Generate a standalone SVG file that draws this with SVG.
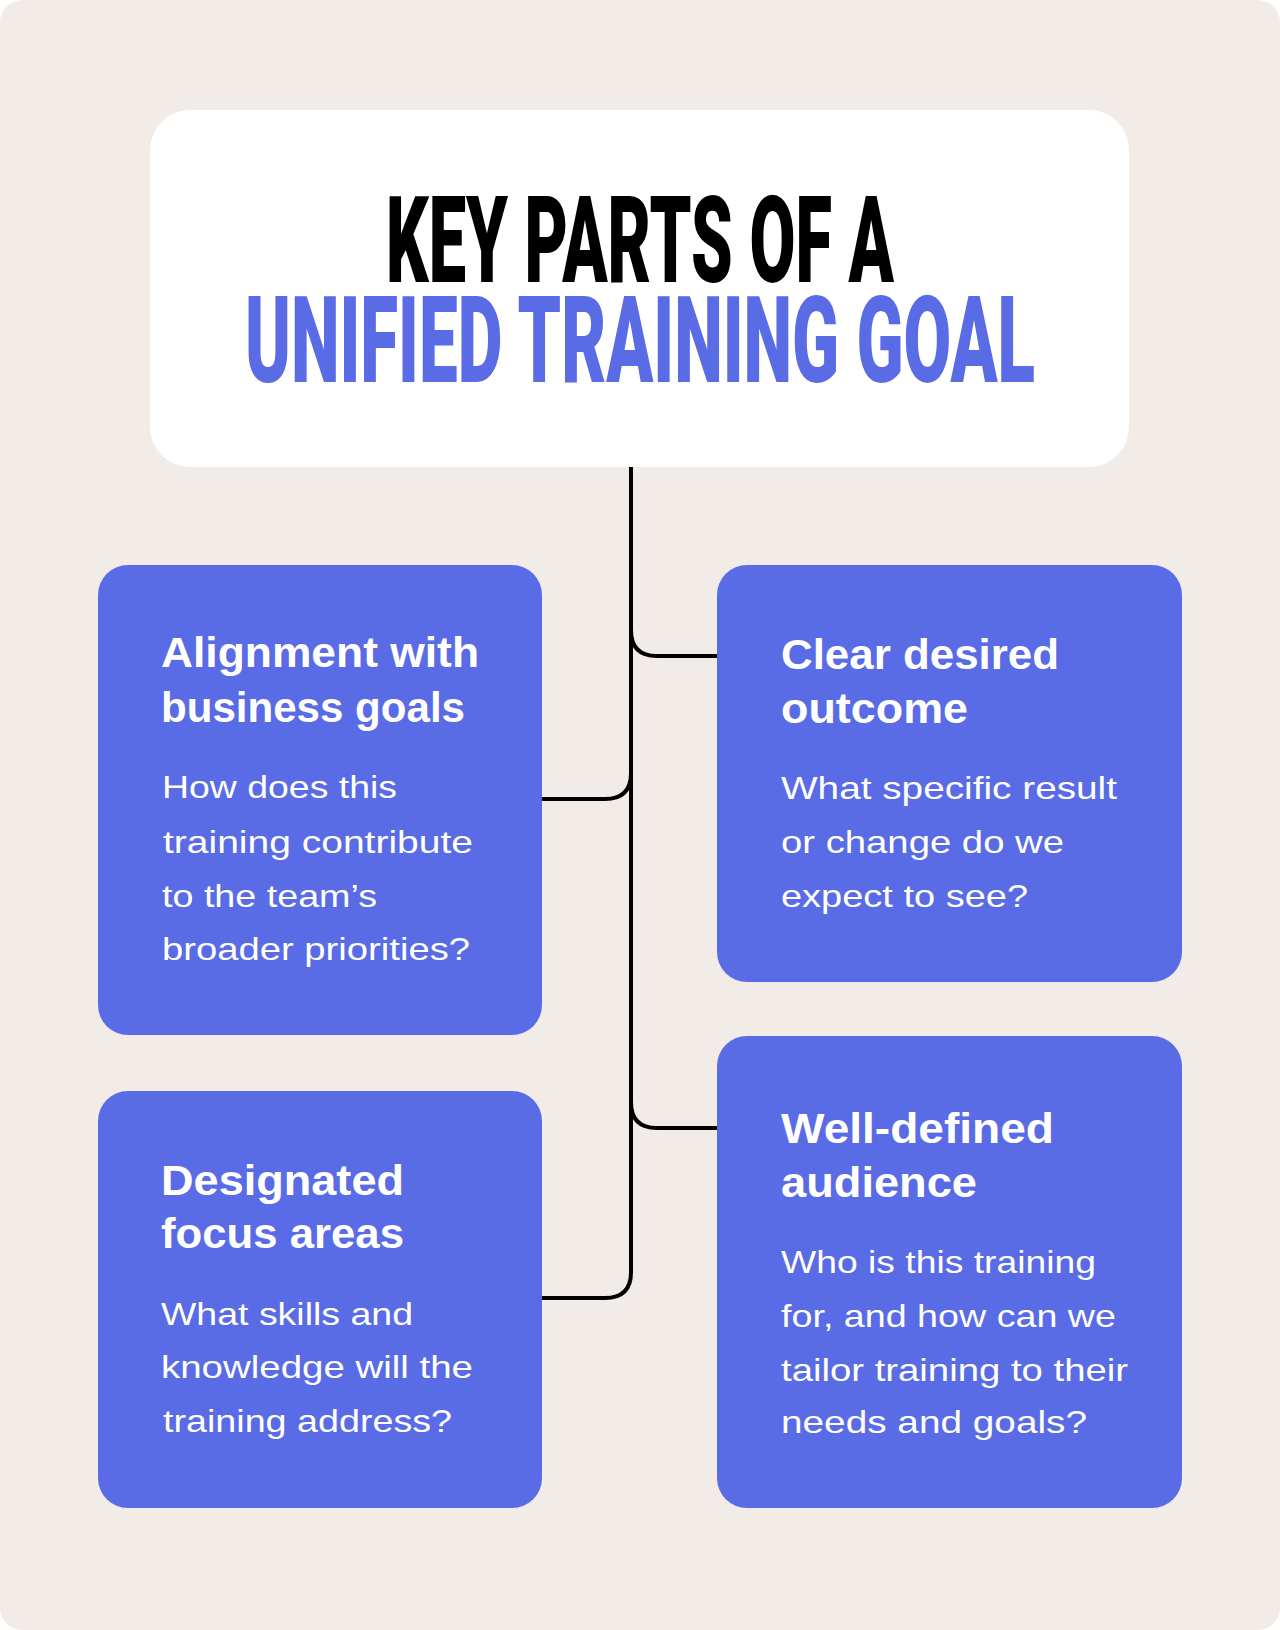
<svg xmlns="http://www.w3.org/2000/svg" width="1280" height="1630" viewBox="0 0 1280 1630">
  <style>
    .card { fill: #5A6BE6; }
    .head { font-family: "Liberation Sans", Arial, sans-serif; font-weight: 700; font-size: 42px; fill: #FFFFFF; }
    .body { font-family: "Liberation Sans", Arial, sans-serif; font-weight: 400; font-size: 32px; fill: #FFFFFF; }
    .title { font-family: Roboto, "Liberation Sans", sans-serif; font-weight: 900; font-size: 120px; }
    .conn { fill: none; stroke: #000000; stroke-width: 4; stroke-linecap: butt; stroke-linejoin: round; }
  </style>
  <rect x="0" y="0" width="1280" height="1630" fill="#FFFFFF"/>
  <rect x="0" y="0" width="1280" height="1630" rx="22" ry="22" fill="#F1ECE8"/>

  <g id="connectors">
    <path class="conn" d="M631 467 V1272 Q631 1298 605 1298 H542"/>
    <path class="conn" d="M631 630 Q631 656 657 656 H718"/>
    <path class="conn" d="M631 773 Q631 799 605 799 H542"/>
    <path class="conn" d="M631 1102 Q631 1128 657 1128 H718"/>
  </g>

  <g id="title">
    <rect x="150" y="110" width="979" height="357" rx="40" ry="40" fill="#FFFFFF"/>
    <text class="title" x="386" y="282" fill="#000000" textLength="508" lengthAdjust="spacingAndGlyphs">KEY PARTS OF A</text>
    <text class="title" x="245" y="382" fill="#5A6BE6" textLength="790" lengthAdjust="spacingAndGlyphs">UNIFIED TRAINING GOAL</text>
  </g>

  <g id="node-alignment">
    <rect class="card" x="98" y="565" width="444" height="470" rx="30" ry="30"/>
    <text class="head" x="161" y="667" textLength="318" lengthAdjust="spacingAndGlyphs">Alignment with</text>
    <text class="head" x="161" y="722" textLength="304" lengthAdjust="spacingAndGlyphs">business goals</text>
    <text class="body" x="162" y="798" textLength="235" lengthAdjust="spacingAndGlyphs">How does this</text>
    <text class="body" x="163" y="853" textLength="310" lengthAdjust="spacingAndGlyphs">training contribute</text>
    <text class="body" x="162" y="907" textLength="215" lengthAdjust="spacingAndGlyphs">to the team’s</text>
    <text class="body" x="162" y="960" textLength="308" lengthAdjust="spacingAndGlyphs">broader priorities?</text>
  </g>

  <g id="node-outcome">
    <rect class="card" x="717" y="565" width="465" height="417" rx="30" ry="30"/>
    <text class="head" x="781" y="669" textLength="278" lengthAdjust="spacingAndGlyphs">Clear desired</text>
    <text class="head" x="781" y="723" textLength="187" lengthAdjust="spacingAndGlyphs">outcome</text>
    <text class="body" x="781" y="799" textLength="336" lengthAdjust="spacingAndGlyphs">What specific result</text>
    <text class="body" x="781" y="853" textLength="283" lengthAdjust="spacingAndGlyphs">or change do we</text>
    <text class="body" x="781" y="907" textLength="247" lengthAdjust="spacingAndGlyphs">expect to see?</text>
  </g>

  <g id="node-focus">
    <rect class="card" x="98" y="1091" width="444" height="417" rx="30" ry="30"/>
    <text class="head" x="161" y="1195" textLength="243" lengthAdjust="spacingAndGlyphs">Designated</text>
    <text class="head" x="161" y="1248" textLength="243" lengthAdjust="spacingAndGlyphs">focus areas</text>
    <text class="body" x="161" y="1325" textLength="252" lengthAdjust="spacingAndGlyphs">What skills and</text>
    <text class="body" x="161" y="1378" textLength="312" lengthAdjust="spacingAndGlyphs">knowledge will the</text>
    <text class="body" x="163" y="1432" textLength="289" lengthAdjust="spacingAndGlyphs">training address?</text>
  </g>

  <g id="node-audience">
    <rect class="card" x="717" y="1036" width="465" height="472" rx="30" ry="30"/>
    <text class="head" x="781" y="1143" textLength="273" lengthAdjust="spacingAndGlyphs">Well-defined</text>
    <text class="head" x="781" y="1197" textLength="196" lengthAdjust="spacingAndGlyphs">audience</text>
    <text class="body" x="781" y="1273" textLength="315" lengthAdjust="spacingAndGlyphs">Who is this training</text>
    <text class="body" x="781" y="1327" textLength="335" lengthAdjust="spacingAndGlyphs">for, and how can we</text>
    <text class="body" x="781" y="1381" textLength="347" lengthAdjust="spacingAndGlyphs">tailor training to their</text>
    <text class="body" x="781" y="1433" textLength="306" lengthAdjust="spacingAndGlyphs">needs and goals?</text>
  </g>
</svg>
